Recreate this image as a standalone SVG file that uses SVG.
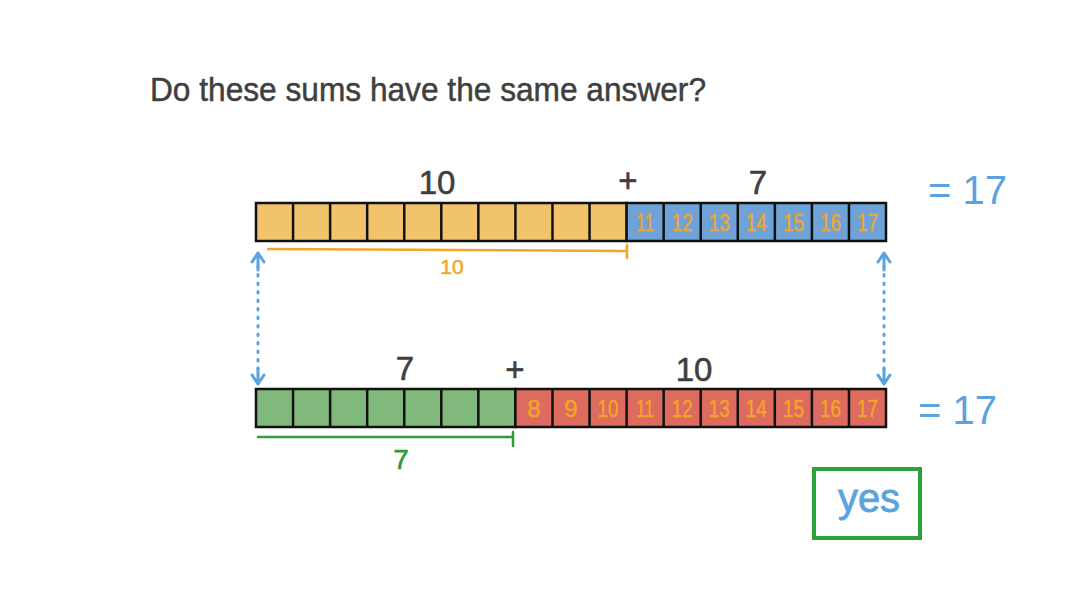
<svg xmlns="http://www.w3.org/2000/svg" width="1088" height="612" viewBox="0 0 1088 612">
<defs>
<style>
.t{font-family:"Liberation Sans",Arial,sans-serif;}
.dark{fill:#3f3f3f;font-size:33px;stroke:#3f3f3f;stroke-width:0.6;}
.num{fill:#F3A626;font-size:24px;text-anchor:middle;stroke:#F3A626;stroke-width:0.4;}
.eq{fill:#5BA3DE;font-size:40px;}
.cell{stroke:#111;stroke-width:2.5;}
.y{fill:#F1C46B;}
.b{fill:#6FA3D8;}
.g{fill:#80B97B;}
.r{fill:#DD6B5F;}
.dot{stroke:#5BA3DE;stroke-width:3;stroke-dasharray:1.5 7;stroke-linecap:round;fill:none;}
.head{stroke:#5BA3DE;stroke-width:3;fill:none;stroke-linecap:round;stroke-linejoin:round;}
</style>
</defs>
<rect width="1088" height="612" fill="#fff"/>
<text class="t" x="150" y="101" font-size="33" fill="#3f3f3f" stroke="#3f3f3f" stroke-width="0.5" textLength="556" lengthAdjust="spacingAndGlyphs">Do these sums have the same answer?</text>

<g id="top-bar">
<rect class="cell y" x="256" y="203" width="370.6" height="38"/>
<rect class="cell b" x="626.6" y="203" width="259.4" height="38"/>
<g stroke="#111" stroke-width="2.5">
<path d="M293.06 203v38M330.12 203v38M367.18 203v38M404.24 203v38M441.3 203v38M478.36 203v38M515.42 203v38M552.48 203v38M589.54 203v38M663.66 203v38M700.72 203v38M737.78 203v38M774.84 203v38M811.9 203v38M848.96 203v38"/>
</g>
<g class="t num" lengthAdjust="spacingAndGlyphs">
<text x="645.1" y="231" textLength="18" lengthAdjust="spacingAndGlyphs">11</text><text x="682.2" y="231" textLength="21" lengthAdjust="spacingAndGlyphs">12</text><text x="719.2" y="231" textLength="21" lengthAdjust="spacingAndGlyphs">13</text><text x="756.3" y="231" textLength="21" lengthAdjust="spacingAndGlyphs">14</text><text x="793.4" y="231" textLength="21" lengthAdjust="spacingAndGlyphs">15</text><text x="830.4" y="231" textLength="21" lengthAdjust="spacingAndGlyphs">16</text><text x="867.5" y="231" textLength="21" lengthAdjust="spacingAndGlyphs">17</text>
</g>
<text class="t dark" x="437" y="194" text-anchor="middle">10</text>
<text class="t dark" x="628" y="192" text-anchor="middle" font-size="26">+</text>
<text class="t dark" x="758" y="194" text-anchor="middle">7</text>
<text class="t eq" x="928" y="204">= 17</text>
<path d="M268 249L627 251M627 245V258" stroke="#F3A626" stroke-width="2.5" fill="none" stroke-linecap="round"/>
<text class="t" x="452" y="274" text-anchor="middle" fill="#F3A626" stroke="#F3A626" stroke-width="0.5" font-size="21">10</text>
</g>

<g id="bottom-bar">
<rect class="cell g" x="256" y="389" width="259.4" height="38"/>
<rect class="cell r" x="515.4" y="389" width="370.6" height="38"/>
<g stroke="#111" stroke-width="2.5">
<path d="M293.06 389v38M330.12 389v38M367.18 389v38M404.24 389v38M441.3 389v38M478.36 389v38M552.48 389v38M589.54 389v38M626.6 389v38M663.66 389v38M700.72 389v38M737.78 389v38M774.84 389v38M811.9 389v38M848.96 389v38"/>
</g>
<g class="t num">
<text x="534" y="417">8</text><text x="571" y="417">9</text><text x="608.1" y="417" textLength="21" lengthAdjust="spacingAndGlyphs">10</text><text x="645.1" y="417" textLength="18" lengthAdjust="spacingAndGlyphs">11</text><text x="682.2" y="417" textLength="21" lengthAdjust="spacingAndGlyphs">12</text><text x="719.2" y="417" textLength="21" lengthAdjust="spacingAndGlyphs">13</text><text x="756.3" y="417" textLength="21" lengthAdjust="spacingAndGlyphs">14</text><text x="793.4" y="417" textLength="21" lengthAdjust="spacingAndGlyphs">15</text><text x="830.4" y="417" textLength="21" lengthAdjust="spacingAndGlyphs">16</text><text x="867.5" y="417" textLength="21" lengthAdjust="spacingAndGlyphs">17</text>
</g>
<text class="t dark" x="405" y="380" text-anchor="middle">7</text>
<text class="t dark" x="515" y="381" text-anchor="middle" font-size="26">+</text>
<text class="t dark" x="694" y="381" text-anchor="middle">10</text>
<text class="t eq" x="918" y="424">= 17</text>
<path d="M258 437H513M513 432V446" stroke="#2E9E3A" stroke-width="2.5" fill="none" stroke-linecap="round"/>
<text class="t" x="401" y="469" text-anchor="middle" fill="#2E9E3A" stroke="#2E9E3A" stroke-width="0.6" font-size="28">7</text>
</g>

<g id="connectors">
<line class="dot" x1="258" y1="266" x2="258" y2="376"/>
<path class="head" d="M252 262L258 253L264 262M258 253V270"/>
<path class="head" d="M252 375L258 384L264 375M258 384V368"/>
<line class="dot" x1="884" y1="266" x2="884" y2="376"/>
<path class="head" d="M878 262L884 253L890 262M884 253V270"/>
<path class="head" d="M878 375L884 384L890 375M884 384V368"/>
</g>

<g id="yes">
<rect x="814" y="469" width="106" height="69" fill="none" stroke="#2BA33A" stroke-width="4"/>
<text class="t" x="869" y="512" text-anchor="middle" fill="#5BA3DE" stroke="#5BA3DE" stroke-width="0.8" font-size="40">yes</text>
</g>
</svg>
